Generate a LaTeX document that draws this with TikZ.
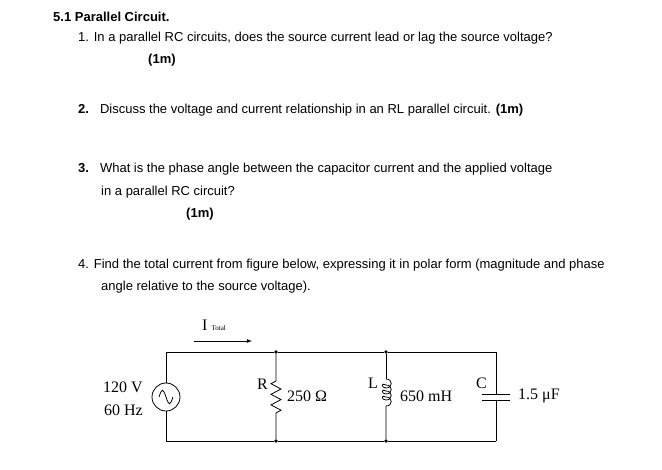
\documentclass[tikz,border=0pt]{standalone}
\usepackage{fontspec}
\setmainfont{Liberation Sans}
\newfontfamily\serifc{Liberation Serif}
\begin{document}
\begin{tikzpicture}[x=1pt,y=-1pt,
 txt/.style={anchor=base west,inner sep=0pt,font=\fontsize{13}{15}\selectfont},
 btxt/.style={txt,font=\bfseries\fontsize{13}{15}\selectfont},
 ser/.style={inner sep=0pt,font=\serifc\fontsize{16}{18}\selectfont},
 dot/.style={circle,fill,inner sep=1.4pt},
 wire/.style={line width=0.8pt}]
\useasboundingbox (0,0) rectangle (662,470);
\node[btxt] (t0) at (53,22) {5.1 Parallel Circuit.};
\node[txt] (t1) at (78,42) {1. In a parallel RC circuits, does the source current lead or lag the source voltage?};
\node[btxt] (t1m) at (148,64) {(1m)};
\node[txt] (t2) at (78,114) {\textbf{2.}\hspace{11pt}Discuss the voltage and current relationship in an RL parallel circuit. \textbf{(1m)}};
\node[txt] (t3) at (78,173) {\textbf{3.}\hspace{11pt}What is the phase angle between the capacitor current and the applied voltage};
\node[txt] (t3b) at (101,196) {in a parallel RC circuit?};
\node[btxt] (t3m) at (186,218) {(1m)};
\node[txt] (t4) at (78,269) {4. Find the total current from figure below, expressing it in polar form (magnitude and phase};
\node[txt] (t4b) at (101,291) {angle relative to the source voltage).};
% circuit
\coordinate (tl) at (166,352); \coordinate (bl) at (166,441);
\coordinate (tr) at (496,352); \coordinate (br) at (496,441);
\node[dot] (rt) at (276,352) {}; \node[dot] (rb) at (276,441) {};
\node[dot] (lt) at (386,352) {}; \node[dot] (lb) at (386,441) {};
\node[draw,circle,minimum size=28pt,inner sep=0pt,wire] (src) at (166,397) {};
\draw[wire] (src.north) -- (tl) -- (rt) -- (lt) -- (tr);
\draw[wire] (src.south) -- (bl) -- (rb) -- (lb) -- (br);
\draw[wire] (src.center) ++(-7,0) .. controls +(3,-9) and +(-3,-9) .. ++(7,0) .. controls +(3,9) and +(-3,9) .. ++(7,0);
% resistor
\coordinate (r1) at (276,381); \coordinate (r2) at (276,413);
\draw[wire] (rt) -- (r1) -- ++(-5,2.7) -- ++(10,5.3) -- ++(-10,5.3) -- ++(10,5.3) -- ++(-10,5.3) -- ++(10,5.3) -- (r2) -- (rb);
% inductor
\coordinate (l1) at (386,379); \coordinate (l2) at (386,415);
\draw[wire] (lt) -- (l1);
\draw[wire] (l1) .. controls +(7,0) and +(7,0) .. ++(0,9) .. controls +(-5,0) and +(-5,-3) .. ++(0,-3)
  .. controls +(7,0) and +(7,0) .. ++(0,9) .. controls +(-5,0) and +(-5,-3) .. ++(0,-3)
  .. controls +(7,0) and +(7,0) .. ++(0,9) .. controls +(-5,0) and +(-5,-3) .. ++(0,-3)
  .. controls +(7,0) and +(7,0) .. ++(0,9) -- (lb);
% capacitor
\coordinate (c1) at (496,394); \coordinate (c2) at (496,400);
\draw[wire] (tr) -- (c1); \draw[wire] (c2) -- (br);
\draw[wire] (482,394) -- (510,394); \draw[wire] (482,400) -- (510,400);
% labels
\node[ser,anchor=east] (v1) at (143,387) {120 V};
\node[ser,anchor=east] (v2) at (143,410) {60 Hz};
\node[ser,anchor=east] (rl) at (268,384) {R};
\node[ser,anchor=west] (rv) at (287,396) {250 Ω};
\node[ser,anchor=east] (ll) at (378,383) {L};
\node[ser,anchor=west] (lv) at (400,396) {650 mH};
\node[ser,anchor=east] (cl) at (487,383) {C};
\node[ser,anchor=west] (cv) at (518,396) {1.5 μF};
\node[ser,anchor=base west] (it) at (202,331) {I {\fontsize{7}{8}\selectfont Total}};
\coordinate (a1) at (194,341); \coordinate (a2) at (252,341);
\draw[wire,-latex] (a1) -- (a2);
\end{tikzpicture}
\end{document}
